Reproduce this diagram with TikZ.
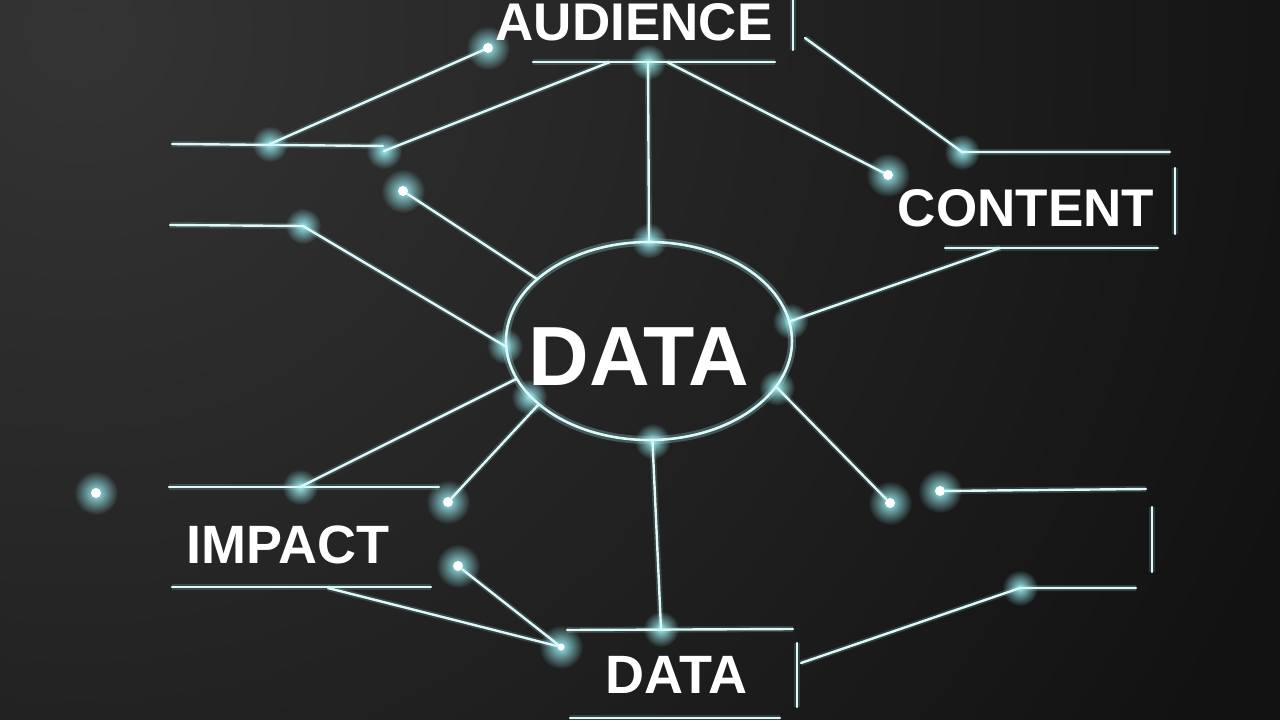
\documentclass[tikz,border=0pt]{standalone}
\usepackage{fontspec}
\setmainfont{Liberation Sans}
\usetikzlibrary{shapes.geometric,fadings}

\definecolor{bgdark}{RGB}{18,18,18}
\definecolor{bglight}{RGB}{52,52,52}
\definecolor{wirecol}{RGB}{222,247,247}
\definecolor{glowcol}{RGB}{150,232,238}

\pgfdeclarelayer{back}
\pgfdeclarelayer{halo}
\pgfsetlayers{back,halo,main}

\tikzfading[name=glowfade, inner color=transparent!0, outer color=transparent!100]

\tikzset{
    wire/.style={draw=wirecol, line width=2.4pt, line cap=round,
        preaction={draw=glowcol, line width=6pt, draw opacity=0.18}},
    hub/.style={ellipse, draw=wirecol, line width=2.6pt, inner sep=0pt,
        minimum width=286pt, minimum height=198pt,
        preaction={draw=glowcol, line width=8pt, draw opacity=0.28}},
    spark/.style={circle, fill=white, inner sep=0pt, minimum size=10pt},
    word/.style={anchor=base, text=white, inner sep=0pt,
        font=\bfseries\fontsize{53}{53}\selectfont},
}

\begin{document}
\begin{tikzpicture}[x=1pt, y=-1pt]
    \useasboundingbox (0,0) rectangle (1280,720);
    \begin{pgfonlayer}{back}
        \fill [bgdark] (0,0) rectangle (1280,720);
        \begin{scope}
            \clip (0,0) rectangle (1280,720);
            \shade [inner color=bglight, outer color=bgdark] (80,30) circle (1300pt);
        \end{scope}
    \end{pgfonlayer}

    % hub and labels
    \node [hub] (core) at (649,341) {};
    \node [word, font=\bfseries\fontsize{84}{84}\selectfont] (coretxt) at (639,385) {DATA};
    \node [word] (audience) at (634,40)  {AUDIENCE};
    \node [word] (content)  at (1026,226) {CONTENT};
    \node [word, font=\bfseries\fontsize{54}{54}\selectfont] (impact) at (288,563) {IMPACT};
    \node [word, font=\bfseries\fontsize{54}{54}\selectfont] (source) at (676,693) {DATA};

    % end points and joints
    \coordinate (aul) at (533,62);   \coordinate (aur) at (775,62);
    \coordinate (aj)  at (648,62);   \coordinate (ajl) at (610,62);
    \coordinate (ajr) at (667,62);
    \coordinate (ab1) at (793,0);    \coordinate (ab2) at (793,50);
    \coordinate (cs)  at (805,38);   \coordinate (ct)  at (962,152);
    \coordinate (ctr) at (1170,152);
    \coordinate (cb1) at (1175,168); \coordinate (cb2) at (1175,234);
    \coordinate (cul) at (945,248);  \coordinate (cur) at (1158,248);
    \coordinate (cj)  at (1000,248);
    \coordinate (lh1) at (172,144);  \coordinate (lh2) at (383,146);
    \coordinate (lk)  at (384,151);  \coordinate (lj)  at (270,144);
    \coordinate (lm1) at (170,225);  \coordinate (lm2) at (303,226);
    \coordinate (rh)  at (1146,489);
    \coordinate (rb1) at (1152,507); \coordinate (rb2) at (1152,572);
    \coordinate (rl)  at (1136,588); \coordinate (rk)  at (1020,588);
    \coordinate (sk)  at (801,663);
    \coordinate (sb1) at (797,643);  \coordinate (sb2) at (797,707);
    \coordinate (sul) at (567,630);  \coordinate (sur) at (793,629);
    \coordinate (sj)  at (661,629);
    \coordinate (sbl) at (570,718);  \coordinate (sbr) at (780,718);
    \coordinate (iul) at (169,487);  \coordinate (iur) at (439,487);
    \coordinate (ij)  at (300,487);
    \coordinate (ibl) at (172,587);  \coordinate (ibr) at (431,587);
    \coordinate (ik)  at (328,588);

    % loose dots
    \node [spark] (dA) at (888,175) {};
    \node [spark] (dB) at (488,48)  {};
    \node [spark] (dC) at (403,191) {};
    \node [spark] (dD) at (890,503) {};
    \node [spark] (dE) at (940,491) {};
    \node [spark] (dF) at (96,493)  {};
    \node [spark] (dG) at (448,502) {};
    \node [spark, minimum size=7pt] (dH) at (561,647) {};
    \node [spark] (dI) at (458,566) {};

    % wires
    \draw [wire] (aul) -- (aur);
    \draw [wire] (ab1) -- (ab2);
    \draw [wire] (aj) -- (core.north);
    \draw [wire] (ajr) -- (dA);
    \draw [wire] (ajl) -- (lk);
    \draw [wire] (lh1) -- (lh2);
    \draw [wire] (dB) -- (lj);
    \draw [wire] (dC) -- (core.151);
    \draw [wire] (lm1) -- (lm2) -- (core.182);
    \draw [wire] (cs) -- (ct) -- (ctr);
    \draw [wire] (cb1) -- (cb2);
    \draw [wire] (cul) -- (cur);
    \draw [wire] (cj) -- (core.8);
    \draw [wire] (core.340) -- (dD);
    \draw [wire] (dE) -- (rh);
    \draw [wire] (rb1) -- (rb2);
    \draw [wire] (rl) -- (rk) -- (sk);
    \draw [wire] (sb1) -- (sb2);
    \draw [wire] (sul) -- (sur);
    \draw [wire] (core.272) -- (sj);
    \draw [wire] (sbl) -- (sbr);
    \draw [wire] (iul) -- (iur);
    \draw [wire] (ij) -- (core.196);
    \draw [wire] (dG) -- (core.210);
    \draw [wire] (ibl) -- (ibr);
    \draw [wire] (ik) -- (dH);
    \draw [wire] (dI) -- (dH);

    % halos
    \begin{pgfonlayer}{halo}
        \foreach \p in {dA,dB,dC,dD,dE,dF,dG,dH,dI}
            \fill [glowcol, path fading=glowfade] (\p) circle (22pt);
        \foreach \p in {aj,ct,lj,lm2,ij,rk,sj,lk,core.north,core.182,core.8,core.340,core.272,core.205}
            \fill [glowcol, path fading=glowfade] (\p) circle (18pt);
    \end{pgfonlayer}
\end{tikzpicture}
\end{document}
